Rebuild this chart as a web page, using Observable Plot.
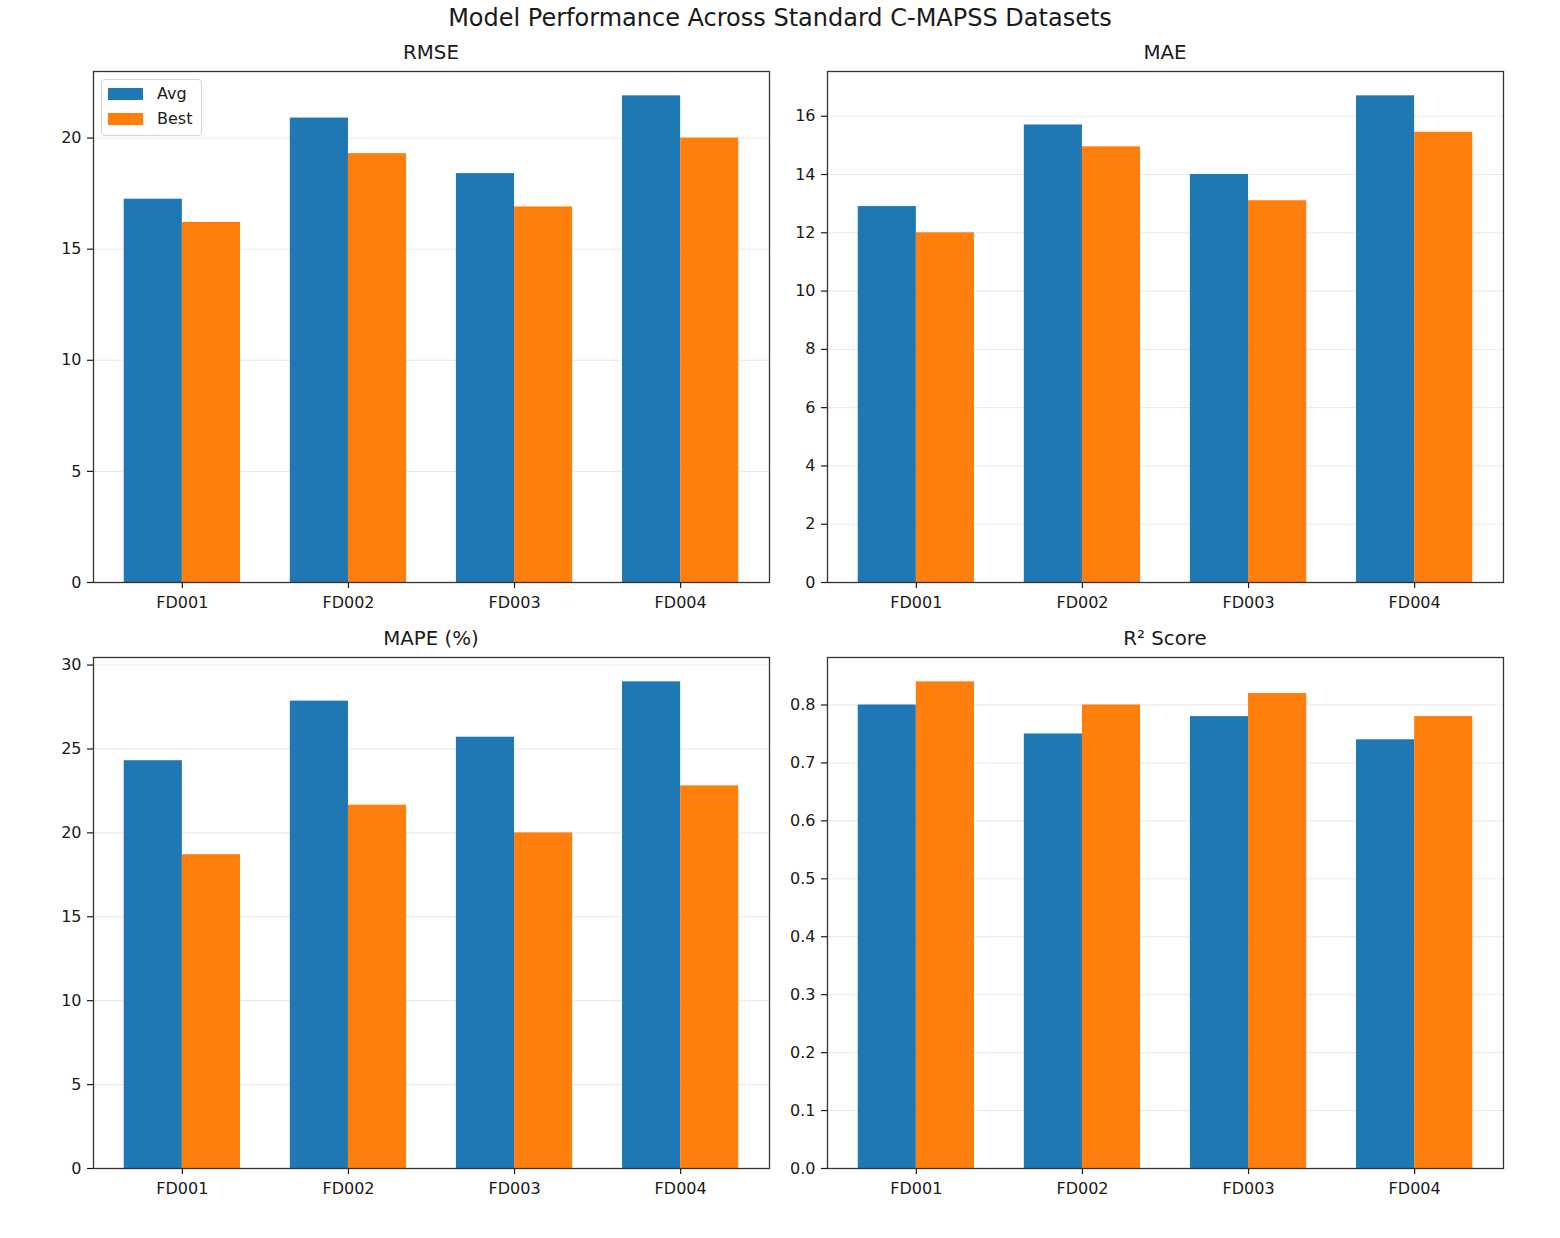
<!DOCTYPE html>
<html>
<head>
<meta charset="utf-8">
<script src="https://cdn.jsdelivr.net/npm/d3@7"></script>
<script src="https://cdn.jsdelivr.net/npm/@observablehq/plot@0.6"></script>
<style>
  html, body { margin: 0; padding: 0; background: #fff; }
  #root { position: relative; width: 1560px; height: 1238px; font-family: "DejaVu Sans", sans-serif; color: #1a1a1a; overflow: hidden; }
  .abs { position: absolute; white-space: nowrap; line-height: 1; }
  .suptitle { font-size: 24px; width: 1560px; left: 0; text-align: center; }
  .ptitle { font-size: 19.8px; text-align: center; width: 676px; }
  .legend { border: 1px solid #d6d6d6; border-radius: 4px; background: rgba(255,255,255,0.8); box-sizing: border-box; }
  .legend .row { position: absolute; font-size: 16px; line-height: 1; }
  .legend .sw { position: absolute; width: 35px; height: 12px; }
</style>
</head>
<body>
<div id="root"></div>
<script>
// ---- data ----
const datasets = ["FD001", "FD002", "FD003", "FD004"];
const series = ["Avg", "Best"];
const colors = ["#1f77b4", "#ff7f0e"];

const rmseAvg  = [17.25, 20.9, 18.4, 21.9];
const rmseBest = [16.2, 19.3, 16.9, 20.0];
const maeAvg   = [12.9, 15.7, 14.0, 16.7];
const maeBest  = [12.0, 14.95, 13.1, 15.45];
const mapeAvg  = [24.3, 27.85, 25.7, 29.0];
const mapeBest = [18.7, 21.65, 20.0, 22.8];
const r2Avg    = [0.80, 0.75, 0.78, 0.74];
const r2Best   = [0.84, 0.80, 0.82, 0.78];

const rmseTicks = [0, 5, 10, 15, 20];
const maeTicks  = [0, 2, 4, 6, 8, 10, 12, 14, 16];
const mapeTicks = [0, 5, 10, 15, 20, 25, 30];
const r2Ticks   = [0, 0.1, 0.2, 0.3, 0.4, 0.5, 0.6, 0.7, 0.8];

const titles = ["RMSE", "MAE", "MAPE (%)", "R\u00b2 Score"];
const supTitle = "Model Performance Across Standard C-MAPSS Datasets";

// ---- layout ----
const root = document.getElementById("root");
const frameW = 676, frameH = 511;
const mL = 70, mR = 12, mT = 12, mB = 44;
const barW = 0.35;
const n = datasets.length;
const xPad = 0.05 * ((n - 1) + 2 * barW);
const xDomain = [-barW - xPad, (n - 1) + barW + xPad];

const panels = [
  {title: titles[0], avg: rmseAvg, best: rmseBest, ticks: rmseTicks, fmt: d3.format("d"), fx: 93, fy: 71, legend: true},
  {title: titles[1], avg: maeAvg, best: maeBest, ticks: maeTicks, fmt: d3.format("d"), fx: 827, fy: 71},
  {title: titles[2], avg: mapeAvg, best: mapeBest, ticks: mapeTicks, fmt: d3.format("d"), fx: 93, fy: 657},
  {title: titles[3], avg: r2Avg, best: r2Best, ticks: r2Ticks, fmt: d3.format(".1f"), fx: 827, fy: 657}
];

const st = document.createElement("div");
st.className = "abs suptitle";
st.style.top = (26 - 0.846 * 24) + "px";
st.textContent = supTitle;
root.appendChild(st);

for (const p of panels) {
  const rows = [];
  datasets.forEach((d, i) => {
    rows.push({dataset: d, i, series: series[0], value: p.avg[i], x1: i - barW, x2: i});
    rows.push({dataset: d, i, series: series[1], value: p.best[i], x1: i, x2: i + barW});
  });
  const ymax = d3.max(rows, r => r.value) * 1.05;

  const chart = Plot.plot({
    width: mL + frameW + mR,
    height: mT + frameH + mB,
    marginLeft: mL, marginRight: mR, marginTop: mT, marginBottom: mB,
    style: {fontFamily: "DejaVu Sans, sans-serif", fontSize: "16px", color: "#1a1a1a", background: "transparent", overflow: "visible"},
    x: {type: "linear", domain: xDomain},
    y: {domain: [0, ymax]},
    color: {domain: series, range: colors},
    marks: [
      Plot.gridY(p.ticks, {stroke: "#b0b0b0", strokeOpacity: 0.3, strokeWidth: 1}),
      Plot.rect(rows, {x1: "x1", x2: "x2", y1: () => 0, y2: "value", fill: "series"}),
      Plot.axisY(p.ticks, {tickSize: 6, tickPadding: 6, tickFormat: p.fmt, strokeWidth: 1.2, label: null}),
      Plot.axisX(d3.range(n), {tickSize: 6, tickPadding: 8, tickFormat: i => datasets[i], strokeWidth: 1.2, label: null}),
      Plot.frame({stroke: "#333", strokeWidth: 1.3})
    ]
  });
  chart.style.position = "absolute";
  chart.style.left = (p.fx - mL) + "px";
  chart.style.top = (p.fy - mT) + "px";
  root.appendChild(chart);

  const t = document.createElement("div");
  t.className = "abs ptitle";
  t.style.left = p.fx + "px";
  t.style.top = (p.fy - 11 - 0.846 * 19.8) + "px";
  t.textContent = p.title;
  root.appendChild(t);

  if (p.legend) {
    const lg = document.createElement("div");
    lg.className = "abs legend";
    lg.style.left = "101px"; lg.style.top = "79px";
    lg.style.width = "101px"; lg.style.height = "57px";
    series.forEach((s, k) => {
      const sw = document.createElement("div");
      sw.className = "sw";
      sw.style.background = colors[k];
      sw.style.left = "6px";
      sw.style.top = (8 + k * 25) + "px";
      lg.appendChild(sw);
      const tx = document.createElement("div");
      tx.className = "row";
      tx.style.left = "55px";
      tx.style.top = (6 + k * 25) + "px";
      tx.textContent = s;
      lg.appendChild(tx);
    });
    root.appendChild(lg);
  }
}
</script>
</body>
</html>
